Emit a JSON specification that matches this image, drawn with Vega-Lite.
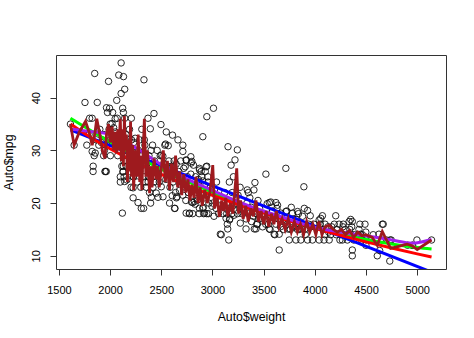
{
"$schema": "https://vega.github.io/schema/vega-lite/v6.json",
"width": 390, "height": 214,
"autosize": {"type": "none"},
"padding": {"left": 56, "top": 55, "right": 28, "bottom": 69},
"background": "white",
"config": {
  "view": {"stroke": "#333", "strokeWidth": 1},
  "axis": {"grid": false, "domain": false, "tickColor": "#333", "tickSize": 6, "labelFont": "Liberation Sans", "labelFontSize": 11, "labelColor": "#000", "labelPadding": 9, "titleFont": "Liberation Sans", "titleFontSize": 12.3, "titleFontWeight": "normal", "titleColor": "#000"}
},
"datasets": {
  "pts": [
{"w":1613,"mpg":35},{"w":1649,"mpg":31},{"w":1755,"mpg":39.1},{"w":1760,"mpg":34},{"w":1773,"mpg":31},{"w":1795,"mpg":33},{"w":1800,"mpg":36.1},{"w":1825,"mpg":36.1},{"w":1825,"mpg":29.8},{"w":1834,"mpg":26},{"w":1835,"mpg":27},{"w":1845,"mpg":29},{"w":1850,"mpg":44.6},{"w":1855,"mpg":29.5},{"w":1867,"mpg":32},{"w":1875,"mpg":39.1},{"w":1880,"mpg":33.5},{"w":1890,"mpg":31},{"w":1900,"mpg":34},
{"w":1915,"mpg":31.5},{"w":1925,"mpg":32},{"w":1937,"mpg":29},{"w":1940,"mpg":33},{"w":1945,"mpg":30},{"w":1950,"mpg":26},{"w":1955,"mpg":26},{"w":1963,"mpg":26},{"w":1965,"mpg":38.1},{"w":1968,"mpg":31},{"w":1975,"mpg":37.2},{"w":1985,"mpg":43.1},{"w":1990,"mpg":34},{"w":1995,"mpg":38},{"w":2000,"mpg":32},{"w":2001,"mpg":35},{"w":2003,"mpg":29},{"w":2019,"mpg":35.1},{"w":2020,"mpg":32},{"w":2025,"mpg":37.2},{"w":2035,"mpg":34.3},{"w":2045,"mpg":31},{"w":2050,"mpg":36},{"w":2051,"mpg":33.5},{"w":2065,"mpg":39.5},{"w":2070,"mpg":36.1},{"w":2074,"mpg":32},{"w":2075,"mpg":29},{"w":2085,"mpg":44.3},{"w":2090,"mpg":33},{"w":2100,"mpg":24},{"w":2100,"mpg":25},{"w":2108,"mpg":46.6},{"w":2108,"mpg":40.8},{"w":2110,"mpg":32.5},{"w":2115,"mpg":27},
{"w":2120,"mpg":18.1},{"w":2123,"mpg":38},{"w":2125,"mpg":26},{"w":2128,"mpg":25.9},{"w":2130,"mpg":37.2},{"w":2130,"mpg":27},{"w":2131,"mpg":44},{"w":2135,"mpg":28},{"w":2137,"mpg":25},{"w":2143,"mpg":24.1},{"w":2143,"mpg":41.6},{"w":2143,"mpg":36.1},{"w":2145,"mpg":30},{"w":2155,"mpg":33},{"w":2158,"mpg":27},{"w":2160,"mpg":29},{"w":2164,"mpg":24.4},{"w":2171,"mpg":31},{"w":2180,"mpg":30.5},{"w":2189,"mpg":26},{"w":2190,"mpg":34},{"w":2200,"mpg":28},{"w":2205,"mpg":23},{"w":2208,"mpg":36.1},{"w":2210,"mpg":32},{"w":2215,"mpg":29.8},{"w":2220,"mpg":27},{"w":2225,"mpg":22.9},{"w":2225,"mpg":21},{"w":2226,"mpg":25},{"w":2228,"mpg":25},{"w":2230,"mpg":31.5},{"w":2234,"mpg":26},{"w":2245,"mpg":32.3},{"w":2255,"mpg":28},{"w":2264,"mpg":28},{"w":2265,"mpg":24},{"w":2273,"mpg":20.1},{"w":2278,"mpg":30},{"w":2289,"mpg":32},{"w":2290,"mpg":26},{"w":2295,"mpg":29},{"w":2300,"mpg":23},{"w":2305,"mpg":19},{"w":2310,"mpg":34},{"w":2320,"mpg":27.2},{"w":2328,"mpg":19},{"w":2330,"mpg":25},{"w":2331,"mpg":43.4},{"w":2335,"mpg":32},{"w":2340,"mpg":31},{"w":2345,"mpg":24},{"w":2354,"mpg":23},{"w":2360,"mpg":27.5},{"w":2370,"mpg":36.1},{"w":2372,"mpg":24},{"w":2375,"mpg":25},{"w":2380,"mpg":29},{"w":2385,"mpg":22},{"w":2393,"mpg":34.1},{"w":2395,"mpg":27},{"w":2396,"mpg":20},{"w":2400,"mpg":30},
{"w":2403,"mpg":21.1},{"w":2405,"mpg":26},{"w":2415,"mpg":31},{"w":2419,"mpg":23},{"w":2420,"mpg":25},{"w":2429,"mpg":37},{"w":2430,"mpg":24},{"w":2434,"mpg":28},{"w":2450,"mpg":27},{"w":2451,"mpg":21.9},{"w":2460,"mpg":30},{"w":2468,"mpg":21.1},{"w":2472,"mpg":25.4},{"w":2480,"mpg":24},{"w":2490,"mpg":29},{"w":2497,"mpg":34.9},{"w":2500,"mpg":23.1},{"w":2500,"mpg":29.1},{"w":2510,"mpg":26},{"w":2516,"mpg":28.9},{"w":2517,"mpg":21.2},{"w":2525,"mpg":27.5},{"w":2535,"mpg":31},{"w":2542,"mpg":31.2},{"w":2545,"mpg":24.5},{"w":2549,"mpg":33.5},{"w":2556,"mpg":26.8},{"w":2560,"mpg":25},{"w":2568,"mpg":30.9},{"w":2575,"mpg":28},{"w":2581,"mpg":20},{"w":2585,"mpg":23},{"w":2590,"mpg":26.5},{"w":2600,"mpg":27},{"w":2607,"mpg":21.4},{"w":2610,"mpg":32.9},{"w":2615,"mpg":24},{"w":2620,"mpg":25.5},{"w":2625,"mpg":28},{"w":2630,"mpg":19},{"w":2634,"mpg":19},{"w":2640,"mpg":22},{"w":2645,"mpg":27.4},{"w":2648,"mpg":21},{"w":2653,"mpg":21.2},{"w":2660,"mpg":24.5},{"w":2663,"mpg":32},{"w":2670,"mpg":26},{"w":2672,"mpg":25},{"w":2678,"mpg":22.4},{"w":2690,"mpg":28},{"w":2700,"mpg":24},
{"w":2711,"mpg":31},{"w":2711,"mpg":29.8},{"w":2711,"mpg":21.5},{"w":2720,"mpg":26.6},{"w":2734,"mpg":26.9},{"w":2735,"mpg":23},{"w":2740,"mpg":20.5},{"w":2743,"mpg":18.1},{"w":2743,"mpg":28.2},{"w":2745,"mpg":28.1},{"w":2755,"mpg":25},{"w":2765,"mpg":22},{"w":2774,"mpg":18},{"w":2776,"mpg":18.1},{"w":2789,"mpg":25.5},{"w":2789,"mpg":28.8},{"w":2792,"mpg":27.6},{"w":2795,"mpg":20.2},{"w":2799,"mpg":27.9},{"w":2800,"mpg":23.5},{"w":2807,"mpg":18},{"w":2808,"mpg":20.1},{"w":2815,"mpg":27.2},{"w":2824,"mpg":20.3},{"w":2830,"mpg":19.8},{"w":2833,"mpg":22},{"w":2835,"mpg":25},{"w":2855,"mpg":20.6},{"w":2863,"mpg":24.5},{"w":2865,"mpg":23.8},{"w":2870,"mpg":18},{"w":2873,"mpg":26.6},{"w":2873,"mpg":19},{"w":2873,"mpg":26.3},{"w":2890,"mpg":26},{"w":2896,"mpg":25},{"w":2900,"mpg":21.5},{"w":2905,"mpg":24.2},{"w":2906,"mpg":32.6},{"w":2906,"mpg":19},{"w":2910,"mpg":19.2},{"w":2914,"mpg":18},{"w":2922,"mpg":18.1},{"w":2925,"mpg":21},{"w":2930,"mpg":26},{"w":2938,"mpg":26.9},{"w":2945,"mpg":18},{"w":2945,"mpg":36.4},{"w":2945,"mpg":27},{"w":2950,"mpg":22.4},{"w":2955,"mpg":25},{"w":2957,"mpg":24},{"w":2962,"mpg":18},{"w":2965,"mpg":20},{"w":2980,"mpg":23},{"w":2995,"mpg":19.4},
{"w":3003,"mpg":20},{"w":3010,"mpg":38},{"w":3015,"mpg":17.5},{"w":3020,"mpg":22.5},{"w":3035,"mpg":19},{"w":3040,"mpg":24},{"w":3060,"mpg":18},{"w":3077,"mpg":14.1},{"w":3086,"mpg":14},{"w":3090,"mpg":20.5},{"w":3102,"mpg":18},{"w":3120,"mpg":22},{"w":3133,"mpg":17.1},{"w":3139,"mpg":18},{"w":3145,"mpg":16},{"w":3149,"mpg":15.1},{"w":3150,"mpg":20},{"w":3152,"mpg":30.7},{"w":3159,"mpg":13},{"w":3160,"mpg":19},{"w":3165,"mpg":24},{"w":3166,"mpg":16.8},{"w":3170,"mpg":17},{"w":3182,"mpg":27.2},{"w":3190,"mpg":18},{"w":3193,"mpg":22},{"w":3200,"mpg":19.5},{"w":3205,"mpg":25},{"w":3210,"mpg":17.7},{"w":3220,"mpg":28.2},{"w":3230,"mpg":20},{"w":3243,"mpg":30.1},{"w":3245,"mpg":18},{"w":3250,"mpg":21.5},{"w":3265,"mpg":19},{"w":3270,"mpg":23},{"w":3272,"mpg":16.2},{"w":3288,"mpg":18},{"w":3302,"mpg":19},{"w":3328,"mpg":15.1},{"w":3329,"mpg":17},{"w":3336,"mpg":20},{"w":3340,"mpg":22.5},{"w":3350,"mpg":22},{"w":3353,"mpg":18},{"w":3365,"mpg":21},{"w":3380,"mpg":19.2},{"w":3381,"mpg":16.5},{"w":3399,"mpg":17.5},
{"w":3405,"mpg":22.5},{"w":3409,"mpg":15.1},{"w":3415,"mpg":23.9},{"w":3425,"mpg":15.1},{"w":3430,"mpg":18},{"w":3433,"mpg":16},{"w":3436,"mpg":18},{"w":3439,"mpg":16},{"w":3445,"mpg":20.5},{"w":3449,"mpg":17},{"w":3460,"mpg":19},{"w":3465,"mpg":17},{"w":3490,"mpg":15.5},{"w":3504,"mpg":18},{"w":3520,"mpg":16},{"w":3522,"mpg":25.5},{"w":3535,"mpg":19.9},{"w":3547,"mpg":16},{"w":3555,"mpg":15.1},{"w":3555,"mpg":20.1},{"w":3563,"mpg":15},{"w":3570,"mpg":20.2},{"w":3575,"mpg":17.5},{"w":3585,"mpg":18.5},{"w":3587,"mpg":18.4},{"w":3603,"mpg":14.1},{"w":3609,"mpg":14},{"w":3620,"mpg":16},{"w":3620,"mpg":20.1},{"w":3630,"mpg":19},{"w":3636,"mpg":19.6},{"w":3645,"mpg":17},{"w":3652,"mpg":14.1},{"w":3652,"mpg":11.1},{"w":3664,"mpg":15.5},{"w":3668,"mpg":18.1},{"w":3675,"mpg":17.5},{"w":3690,"mpg":16.5},{"w":3693,"mpg":15},{"w":3717,"mpg":26.6},{"w":3717,"mpg":18.4},{"w":3725,"mpg":18.5},{"w":3730,"mpg":16},{"w":3734,"mpg":15.1},{"w":3750,"mpg":13},{"w":3761,"mpg":15},{"w":3770,"mpg":19.2},{"w":3782,"mpg":18.1},{"w":3785,"mpg":17},{"w":3795,"mpg":15.5},
{"w":3815,"mpg":13},{"w":3820,"mpg":16.9},{"w":3830,"mpg":15},{"w":3831,"mpg":18.4},{"w":3840,"mpg":18},{"w":3847,"mpg":15.1},{"w":3850,"mpg":15},{"w":3863,"mpg":13},{"w":3870,"mpg":16},{"w":3880,"mpg":17.5},{"w":3880,"mpg":15.8},{"w":3893,"mpg":23.1},{"w":3897,"mpg":19},{"w":3900,"mpg":15},{"w":3907,"mpg":14},{"w":3929,"mpg":13},{"w":3929,"mpg":18.6},{"w":3940,"mpg":16},{"w":3955,"mpg":17.6},{"w":3962,"mpg":15.5},{"w":3977,"mpg":13},{"w":3990,"mpg":16},{"w":4042,"mpg":13},{"w":4042,"mpg":16.8},{"w":4054,"mpg":16},{"w":4058,"mpg":17.1},{"w":4074,"mpg":17.6},{"w":4082,"mpg":15},{"w":4090,"mpg":13},{"w":4096,"mpg":14},{"w":4100,"mpg":16},{"w":4129,"mpg":15.5},{"w":4135,"mpg":14.5},{"w":4140,"mpg":13},{"w":4154,"mpg":14},{"w":4165,"mpg":15.5},{"w":4190,"mpg":16},{"w":4204,"mpg":17.6},{"w":4209,"mpg":14},{"w":4215,"mpg":15},{"w":4237,"mpg":16},{"w":4245,"mpg":13},{"w":4257,"mpg":14},{"w":4269,"mpg":13},{"w":4274,"mpg":15.5},{"w":4278,"mpg":16},
{"w":4295,"mpg":15},{"w":4312,"mpg":14},{"w":4318,"mpg":13},{"w":4335,"mpg":16.5},{"w":4341,"mpg":15},{"w":4350,"mpg":16.9},{"w":4354,"mpg":14},{"w":4360,"mpg":15.5},{"w":4366,"mpg":16.5},{"w":4366,"mpg":11.1},{"w":4366,"mpg":10},{"w":4380,"mpg":13},{"w":4385,"mpg":14},{"w":4425,"mpg":14},{"w":4431,"mpg":15},{"w":4440,"mpg":16},{"w":4447,"mpg":14.1},{"w":4456,"mpg":13},{"w":4464,"mpg":14},{"w":4490,"mpg":16},{"w":4498,"mpg":14.5},{"w":4499,"mpg":12},{"w":4502,"mpg":13},{"w":4547,"mpg":13},{"w":4570,"mpg":14},{"w":4610,"mpg":10},{"w":4626,"mpg":14.1},{"w":4633,"mpg":11},{"w":4654,"mpg":13},{"w":4659,"mpg":16},{"w":4668,"mpg":16},{"w":4699,"mpg":13},{"w":4732,"mpg":9},{"w":4735,"mpg":13},{"w":4746,"mpg":13},{"w":4906,"mpg":12},{"w":4951,"mpg":12},{"w":4955,"mpg":12},{"w":4997,"mpg":13},{"w":5140,"mpg":13}
  ],
  "fits": [
{"m":"lin","w":1613,"mpg":33.88},{"m":"lin","w":5140,"mpg":6.91},
{"m":"quad","w":1613,"mpg":36.1},{"m":"quad","w":2000,"mpg":31.61},{"m":"quad","w":2250,"mpg":28.94},{"m":"quad","w":2500,"mpg":26.45},{"m":"quad","w":2750,"mpg":24.15},{"m":"quad","w":3000,"mpg":22.02},{"m":"quad","w":3250,"mpg":20.08},{"m":"quad","w":3500,"mpg":18.32},{"m":"quad","w":3750,"mpg":16.75},{"m":"quad","w":4000,"mpg":15.35},{"m":"quad","w":4250,"mpg":14.13},{"m":"quad","w":4500,"mpg":13.11},{"m":"quad","w":4750,"mpg":12.26},{"m":"quad","w":5000,"mpg":11.59},{"m":"quad","w":5140,"mpg":11.3},
{"m":"log","w":1613,"mpg":35.0},{"m":"log","w":1750,"mpg":33.22},{"m":"log","w":2000,"mpg":30.32},{"m":"log","w":2250,"mpg":27.75},{"m":"log","w":2500,"mpg":25.46},{"m":"log","w":2750,"mpg":23.38},{"m":"log","w":3000,"mpg":21.49},{"m":"log","w":3250,"mpg":19.74},{"m":"log","w":3500,"mpg":18.13},{"m":"log","w":3750,"mpg":16.62},{"m":"log","w":4000,"mpg":15.22},{"m":"log","w":4250,"mpg":13.9},{"m":"log","w":4500,"mpg":12.65},{"m":"log","w":4750,"mpg":11.48},{"m":"log","w":5000,"mpg":10.36},{"m":"log","w":5140,"mpg":9.76},
{"m":"smooth","w":1613,"mpg":34.0},{"m":"smooth","w":1800,"mpg":33.6},{"m":"smooth","w":2000,"mpg":33.0},{"m":"smooth","w":2250,"mpg":30.5},{"m":"smooth","w":2500,"mpg":27.3},{"m":"smooth","w":2750,"mpg":24.6},{"m":"smooth","w":3000,"mpg":22.4},{"m":"smooth","w":3250,"mpg":20.3},{"m":"smooth","w":3500,"mpg":18.5},{"m":"smooth","w":3750,"mpg":16.9},{"m":"smooth","w":4000,"mpg":15.4},{"m":"smooth","w":4250,"mpg":14.5},{"m":"smooth","w":4500,"mpg":13.8},{"m":"smooth","w":4750,"mpg":13.0},{"m":"smooth","w":4950,"mpg":12.4},{"m":"smooth","w":5140,"mpg":13.1}
  ],
  "wiggle": [
{"w":1613,"mpg":35.0},{"w":1649,"mpg":31.0},{"w":1700,"mpg":33.5},{"w":1760,"mpg":35.5},{"w":1795,"mpg":33.5},{"w":1825,"mpg":31.0},{"w":1850,"mpg":33.0},{"w":1870,"mpg":36.0},{"w":1900,"mpg":33.0},{"w":1925,"mpg":30.0},{"w":1950,"mpg":28.5},{"w":1965,"mpg":33.0},{"w":1985,"mpg":35.0},{"w":2000,"mpg":31.5},{"w":2020,"mpg":34.5},{"w":2035,"mpg":30.0},{"w":2050,"mpg":33.5},{"w":2065,"mpg":29.5},{"w":2075,"mpg":34.0},{"w":2085,"mpg":30.0},{"w":2100,"mpg":36.0},{"w":2110,"mpg":28.0},{"w":2120,"mpg":34.0},{"w":2130,"mpg":27.0},{"w":2140,"mpg":36.5},{"w":2150,"mpg":30.0},{"w":2160,"mpg":33.0},{"w":2170,"mpg":24.0},{"w":2180,"mpg":32.0},{"w":2190,"mpg":26.0},{"w":2200,"mpg":35.5},{"w":2210,"mpg":25.0},{"w":2220,"mpg":31.0},{"w":2230,"mpg":22.5},{"w":2245,"mpg":30.0},{"w":2260,"mpg":25.0},{"w":2275,"mpg":33.0},{"w":2290,"mpg":24.0},{"w":2300,"mpg":29.0},{"w":2310,"mpg":22.5},{"w":2320,"mpg":28.0},{"w":2335,"mpg":36.0},{"w":2350,"mpg":25.0},{"w":2365,"mpg":30.0},{"w":2386,"mpg":21.9},{"w":2395,"mpg":27.0},{"w":2410,"mpg":23.0},{"w":2430,"mpg":28.5},{"w":2450,"mpg":24.5},{"w":2465,"mpg":27.0},{"w":2480,"mpg":23.0},{"w":2500,"mpg":26.5},{"w":2520,"mpg":30.0},{"w":2540,"mpg":24.0},{"w":2560,"mpg":28.0},{"w":2580,"mpg":22.5},{"w":2600,"mpg":27.5},{"w":2620,"mpg":24.0},{"w":2640,"mpg":29.0},{"w":2660,"mpg":23.0},{"w":2680,"mpg":26.0},{"w":2700,"mpg":21.5},{"w":2720,"mpg":25.5},{"w":2740,"mpg":22.0},{"w":2760,"mpg":24.5},{"w":2780,"mpg":20.5},{"w":2800,"mpg":23.5},{"w":2820,"mpg":21.0},{"w":2840,"mpg":25.0},{"w":2860,"mpg":20.0},{"w":2880,"mpg":23.0},{"w":2900,"mpg":19.5},{"w":2925,"mpg":22.5},{"w":2950,"mpg":20.0},{"w":2975,"mpg":22.0},{"w":3003,"mpg":27.2},{"w":3020,"mpg":19.0},{"w":3045,"mpg":21.0},{"w":3068,"mpg":17.4},{"w":3090,"mpg":20.5},{"w":3110,"mpg":18.5},{"w":3130,"mpg":21.0},{"w":3150,"mpg":17.5},{"w":3175,"mpg":20.0},{"w":3200,"mpg":18.0},{"w":3215,"mpg":21.5},{"w":3237,"mpg":26.6},{"w":3255,"mpg":18.0},{"w":3275,"mpg":20.5},{"w":3300,"mpg":17.0},{"w":3325,"mpg":19.5},{"w":3350,"mpg":16.5},{"w":3375,"mpg":19.0},{"w":3400,"mpg":17.5},{"w":3425,"mpg":20.5},{"w":3450,"mpg":16.5},{"w":3475,"mpg":18.5},{"w":3500,"mpg":16.0},{"w":3525,"mpg":18.5},{"w":3550,"mpg":15.5},{"w":3575,"mpg":18.0},{"w":3600,"mpg":16.0},{"w":3625,"mpg":18.5},{"w":3650,"mpg":15.5},{"w":3680,"mpg":17.0},{"w":3710,"mpg":15.0},{"w":3740,"mpg":17.0},{"w":3770,"mpg":14.5},{"w":3800,"mpg":16.5},{"w":3830,"mpg":14.5},{"w":3860,"mpg":16.0},{"w":3890,"mpg":14.0},{"w":3920,"mpg":16.5},{"w":3950,"mpg":14.5},{"w":3980,"mpg":16.0},{"w":4010,"mpg":14.0},{"w":4040,"mpg":16.5},{"w":4070,"mpg":14.0},{"w":4100,"mpg":15.5},{"w":4140,"mpg":15.8},{"w":4180,"mpg":15.0},{"w":4220,"mpg":14.5},{"w":4260,"mpg":15.0},{"w":4300,"mpg":14.0},{"w":4340,"mpg":14.8},{"w":4380,"mpg":13.5},{"w":4420,"mpg":14.5},{"w":4460,"mpg":13.8},{"w":4500,"mpg":14.0},{"w":4560,"mpg":13.5},{"w":4610,"mpg":12.0},{"w":4659,"mpg":14.6},{"w":4740,"mpg":11.4},{"w":4820,"mpg":11.8},{"w":4900,"mpg":12.2},{"w":4951,"mpg":11.9},{"w":5000,"mpg":11.2},{"w":5140,"mpg":13.0}
  ]
},
"encoding": {
  "x": {"field": "w", "type": "quantitative", "scale": {"domain": [1471.9, 5281.1], "nice": false, "zero": false},
        "axis": {"values": [1500, 2000, 2500, 3000, 3500, 4000, 4500, 5000], "format": "d", "title": "Auto$weight", "titlePadding": 15}},
  "y": {"field": "mpg", "type": "quantitative", "scale": {"domain": [7.496, 48.104], "nice": false, "zero": false},
        "axis": {"values": [10, 20, 30, 40], "format": "d", "title": "Auto$mpg", "labelAngle": -90, "titlePadding": 15}}
},
"layer": [
  {"data": {"name": "pts"}, "mark": {"type": "point", "shape": "circle", "filled": false, "color": "#111", "size": 42, "strokeWidth": 0.9, "opacity": 1}},
  {"data": {"name": "fits"}, "transform": [{"filter": "datum.m === 'lin'"}], "mark": {"type": "line", "color": "#0000FF", "strokeWidth": 3, "clip": true}},
  {"data": {"name": "fits"}, "transform": [{"filter": "datum.m === 'quad'"}], "mark": {"type": "line", "color": "#00FF00", "strokeWidth": 3, "interpolate": "monotone", "clip": true}},
  {"data": {"name": "fits"}, "transform": [{"filter": "datum.m === 'log'"}], "mark": {"type": "line", "color": "#FF0000", "strokeWidth": 3, "interpolate": "monotone", "clip": true}},
  {"data": {"name": "fits"}, "transform": [{"filter": "datum.m === 'smooth'"}], "mark": {"type": "line", "color": "#A020F0", "strokeWidth": 3, "interpolate": "monotone", "clip": true}},
  {"data": {"name": "wiggle"}, "mark": {"type": "line", "color": "#9E1A1E", "strokeWidth": 2.8, "clip": true}}
]
}
